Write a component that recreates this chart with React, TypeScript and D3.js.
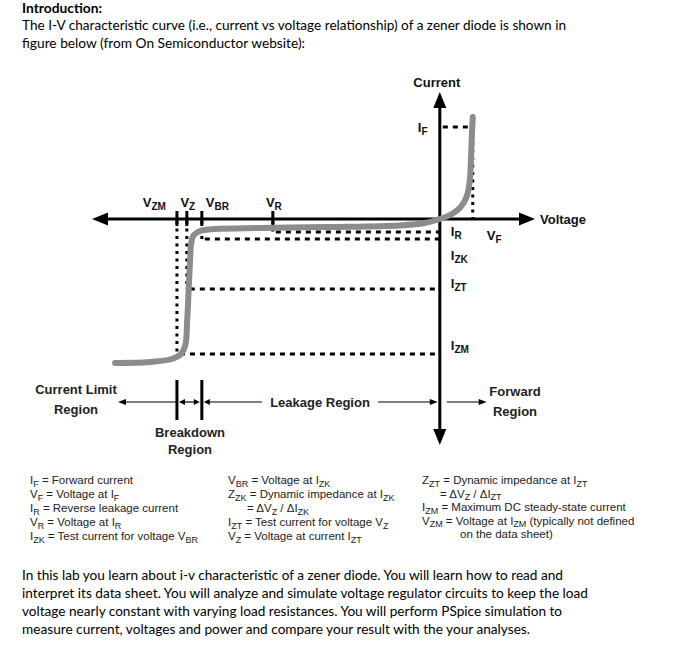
import React from "react";
import * as d3 from "d3";

// page text
const introTitle = "Introduction:";
const introLines = [
  "The I-V characteristic curve (i.e., current vs voltage relationship) of a zener diode is shown in",
  "figure below (from On Semiconductor website):"
];
const outroLines = [
  "In this lab you learn about i-v characteristic of a zener diode. You will learn how to read and",
  "interpret its data sheet. You will analyze and simulate voltage regulator circuits to keep the load",
  "voltage nearly constant with varying load resistances. You will perform PSpice simulation to",
  "measure current, voltages and power and compare your result with the your analyses."
];

// I-V curve (volts, mA - arbitrary illustration units)
const curveV = [-8.87, -7.92, -7.32, -7.07, -6.95, -6.9, -6.86, -6.82, -6.79, -6.72, -6.55, -6.14, -4.91, -3.0, -1.09, -0.41, 0, 0.33, 0.57, 0.74, 0.82, 0.85, 0.87, 0.9];
const curveI = [-72, -71.5, -70, -67.5, -63, -50.5, -35.5, -20.5, -12, -8, -6, -5, -4.5, -4, -3.2, -2, 0, 2.5, 6, 11.5, 19.5, 29.5, 39.5, 51];

// reverse voltage markers and their currents
const vTickLabels = ["V_{ZM}", "V_{Z}", "V_{BR}", "V_{R}"];
const vTickValues = [-7.18, -6.91, -6.5, -4.56];
const iTickLabels = ["I_{ZM}", "I_{ZT}", "I_{ZK}", "I_{R}"];
const iTickValues = [-67.5, -35, -10, -6.5];

// forward point
const forwardV = 0.9;
const forwardI = 46;

// regions (voltage bounds)
const regionLabels = ["Current Limit|Region", "Breakdown|Region", "Leakage Region", "Forward|Region"];
const regionEdges = [-8.79, -7.18, -6.5, 0, 1.28];
const regionArrowI = -91.5;

// legend
const legend1 = [
  "I_{F} = Forward current",
  "V_{F} = Voltage at I_{F}",
  "I_{R} = Reverse leakage current",
  "V_{R} = Voltage at I_{R}",
  "I_{ZK} = Test current for voltage V_{BR}"
];
const legend2 = [
  "V_{BR} = Voltage at I_{ZK}",
  "Z_{ZK} = Dynamic impedance at I_{ZK}",
  "= ΔV_{Z} / ΔI_{ZK}",
  "I_{ZT} = Test current for voltage V_{Z}",
  "V_{Z} = Voltage at current I_{ZT}"
];
const legend3 = [
  "Z_{ZT} = Dynamic impedance at I_{ZT}",
  "= ΔV_{Z} / ΔI_{ZT}",
  "I_{ZM} = Maximum DC steady-state current",
  "V_{ZM} = Voltage at I_{ZM} (typically not defined",
  "on the data sheet)"
];

const W = 700, H = 653;
const bodyFont = "Lato, 'Open Sans', sans-serif";
const figFont = "'Liberation Sans', Arial, sans-serif";
const gray = "#8c8c8c";

function rich(s: string, subSize: number, shift: number) {
  const parts = s.split(/(_\{[^}]*\})/).filter(p => p !== "");
  let down = false;
  return parts.map((p, i) => {
    if (p.startsWith("_{")) {
      const el = (
        <tspan key={i} fontSize={subSize} dy={down ? 0 : shift}>
          {p.slice(2, -1)}
        </tspan>
      );
      down = true;
      return el;
    }
    const el = (
      <tspan key={i} dy={down ? -shift : 0}>
        {p}
      </tspan>
    );
    down = false;
    return el;
  });
}

function arrowHead(tx: number, ty: number, dir: "l" | "r" | "u" | "d", len: number, half: number) {
  if (dir === "l") return `M${tx},${ty}L${tx + len},${ty - half}L${tx + len},${ty + half}Z`;
  if (dir === "r") return `M${tx},${ty}L${tx - len},${ty - half}L${tx - len},${ty + half}Z`;
  if (dir === "u") return `M${tx},${ty}L${tx - half},${ty + len}L${tx + half},${ty + len}Z`;
  return `M${tx},${ty}L${tx - half},${ty - len}L${tx + half},${ty - len}Z`;
}

export default function App() {
  const x = d3.scaleLinear().domain([-9.5, 2.6]).range([92, 535]);
  const y = d3.scaleLinear().domain([-113, 63.5]).range([445, 92]);
  const x0 = x(0), y0 = y(0);

  const pts: [number, number][] = curveV.map((v, i) => [x(v), y(curveI[i])]);
  const curvePath = d3.line().curve(d3.curveCatmullRom.alpha(0.5))(pts) || "";

  const tickLayout = [
    { anchor: "end", dx: -11 },
    { anchor: "middle", dx: 1 },
    { anchor: "start", dx: 4 },
    { anchor: "middle", dx: 1 }
  ];
  const iLabelDy = [-4, -1, 21, 4];

  const ra = y(regionArrowI);
  const [eLimit, eZM, eBR, eAxis, eFwd] = regionEdges.map(v => x(v));

  const legendBase = 484;

  return (
    <svg width={W} height={H} style={{ position: "absolute", left: 0, top: 0, background: "#fff" }}>
      <rect width={W} height={H} fill="#fff" />
      {/* intro text */}
      <g fontFamily={bodyFont} fontSize={13.5} fill="#000">
        <text x={22} y={13} fontWeight="bold" fontSize={13} textLength={80} lengthAdjust="spacingAndGlyphs">
          {introTitle}
        </text>
        {introLines.map((t, i) => (
          <text key={i} x={22} y={30 + i * 18} textLength={[544, 283][i]} lengthAdjust="spacingAndGlyphs">
            {t}
          </text>
        ))}
        {outroLines.map((t, i) => (
          <text key={i} x={22} y={580 + i * 18} textLength={[541, 566, 540, 508][i]} lengthAdjust="spacingAndGlyphs">
            {t}
          </text>
        ))}
      </g>

      {/* dashed guide lines */}
      <g stroke="#000" strokeWidth={3} fill="none">
        {vTickValues.map((v, i) => (
          <line key={"vd" + i} x1={x(v)} x2={x(v)} y1={y0 + 2} y2={y(iTickValues[i])} strokeDasharray="3,4.5" />
        ))}
        {iTickValues.map((c, i) => (
          <line key={"hd" + i} x1={x(vTickValues[i]) + 3} x2={x0} y1={y(c)} y2={y(c)} strokeDasharray="5,5" />
        ))}
        <line x1={x0 + 3} x2={x(forwardV)} y1={y(forwardI)} y2={y(forwardI)} strokeDasharray="5,5" />
        <line x1={x(forwardV)} x2={x(forwardV)} y1={y(forwardI)} y2={y0} strokeDasharray="3,4.5" />
      </g>

      {/* axes */}
      <g stroke="#000" strokeWidth={3}>
        <line x1={x(-9.5) + 8} x2={x(2.6) - 8} y1={y0} y2={y0} />
        <line x1={x0} x2={x0} y1={y(63.5) + 8} y2={y(-113) - 8} />
        {vTickValues.map((v, i) => (
          <line key={i} x1={x(v)} x2={x(v)} y1={y0 - 8} y2={y0 + 7} />
        ))}
      </g>
      <g fill="#000">
        <path d={arrowHead(x(-9.5), y0, "l", 16, 6.5)} />
        <path d={arrowHead(x(2.6), y0, "r", 16, 6.5)} />
        <path d={arrowHead(x0, y(63.5), "u", 16, 6.5)} />
        <path d={arrowHead(x0, y(-113), "d", 16, 6.5)} />
      </g>

      {/* I-V curve */}
      <path d={curvePath} fill="none" stroke={gray} strokeWidth={6} strokeLinecap="round" strokeLinejoin="round" />

      {/* axis labels */}
      <g fontFamily={figFont} fontWeight="bold" fontSize={13} fill="#111">
        <text x={x0 - 3} y={87} textAnchor="middle">Current</text>
        <text x={x(2.6) + 5} y={y0 + 5}>Voltage</text>
        {vTickLabels.map((t, i) => (
          <text key={i} x={x(vTickValues[i]) + tickLayout[i].dx} y={207} textAnchor={tickLayout[i].anchor as any}>
            {rich(t, 10, 3)}
          </text>
        ))}
        {iTickLabels.map((t, i) => (
          <text key={i} x={x0 + 11} y={y(iTickValues[i]) + iLabelDy[i]}>
            {rich(t, 10, 3)}
          </text>
        ))}
        <text x={x0 - 22} y={y(forwardI) + 5}>{rich("I_{F}", 10, 3)}</text>
        <text x={x(forwardV) + 14} y={y0 + 21}>{rich("V_{F}", 10, 3)}</text>
      </g>

      {/* region annotations */}
      <g stroke="#000" strokeWidth={1.2}>
        <line x1={eLimit + 5} x2={eZM} y1={ra} y2={ra} />
        <line x1={eZM + 4} x2={eBR - 4} y1={ra} y2={ra} />
        <line x1={eBR + 4} x2={262} y1={ra} y2={ra} />
        <line x1={378} x2={eAxis - 6} y1={ra} y2={ra} />
        <line x1={eAxis + 7} x2={eFwd - 5} y1={ra} y2={ra} />
        <line x1={eZM} x2={eZM} y1={ra - 22} y2={ra + 18} strokeWidth={3} />
        <line x1={eBR} x2={eBR} y1={ra - 22} y2={ra + 18} strokeWidth={3} />
      </g>
      <g fill="#000">
        <path d={arrowHead(eLimit, ra, "l", 8, 3)} />
        <path d={arrowHead(eZM + 2, ra, "l", 6, 3)} />
        <path d={arrowHead(eBR - 2, ra, "r", 6, 3)} />
        <path d={arrowHead(eBR + 2, ra, "l", 6, 3)} />
        <path d={arrowHead(eAxis - 2, ra, "r", 8, 3)} />
        <path d={arrowHead(eFwd, ra, "r", 8, 3)} />
      </g>
      <g fontFamily={figFont} fontWeight="bold" fontSize={13} fill="#222" textAnchor="middle">
        {[
          { cx: 76, cy: 394 },
          { cx: 190, cy: 437 },
          { cx: 320, cy: 407 },
          { cx: 515, cy: 396 }
        ].map((p, i) =>
          regionLabels[i].split("|").map((ln, j) => (
            <text key={i + "-" + j} x={p.cx} y={p.cy + j * (i === 1 ? 17 : 20)}>
              {ln}
            </text>
          ))
        )}
      </g>

      {/* legend */}
      <g fontFamily={figFont} fontSize={11.5} fill="#222">
        {legend1.map((t, i) => (
          <text key={"a" + i} x={30} y={legendBase + i * 14}>{rich(t, 9, 2.5)}</text>
        ))}
        {legend2.map((t, i) => (
          <text key={"b" + i} x={i === 2 ? 247 : 228} y={legendBase + i * 14}>{rich(t, 9, 2.5)}</text>
        ))}
        {legend3.map((t, i) => (
          <text key={"c" + i} x={i === 1 ? 440 : i === 4 ? 460 : 422} y={legendBase + i * 13.5}>{rich(t, 9, 2.5)}</text>
        ))}
      </g>
    </svg>
  );
}
